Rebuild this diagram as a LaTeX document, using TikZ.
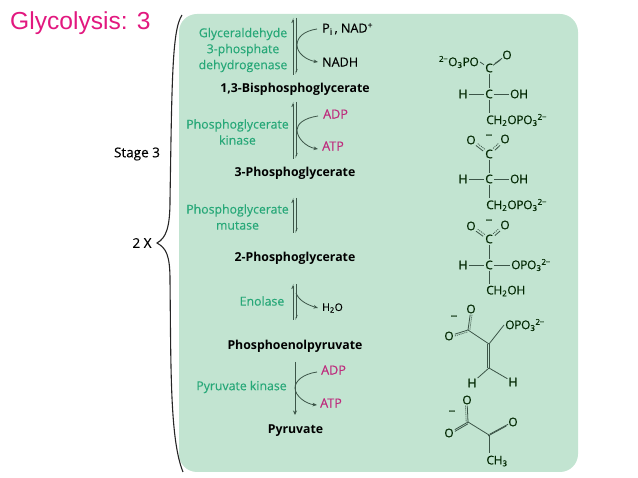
\documentclass[tikz,border=0pt]{standalone}
\usepackage{fontspec}
\setmainfont{Open Sans}
\newfontfamily\titlefont{Liberation Sans}
\newfontfamily\heavyfont[FakeBold=0.25]{Open Sans}
\newfontfamily\chemfont[FakeBold=0.25,LetterSpace=-3]{Open Sans}
\usepackage{tikz}
\usetikzlibrary{calc, positioning, arrows.meta}
\definecolor{panelgreen}{HTML}{C2E4D1}
\definecolor{enzgreen}{HTML}{27A878}
\definecolor{cofacpink}{HTML}{BE2A7C}
\definecolor{titlepink}{HTML}{E2187F}
\definecolor{bondgrey}{HTML}{3C5548}
\tikzset{
    x=1pt, y=-1pt,
    enzyme/.style = {inner sep=0pt, align=center, text=enzgreen, font=\heavyfont\fontsize{12.3}{16}\selectfont},
    metab/.style = {inner sep=0pt, font=\fontsize{12.3}{15}\selectfont\bfseries},
    cofac/.style = {inner sep=0pt, anchor=west, font=\heavyfont\fontsize{12.6}{15}\selectfont},
    adp/.style = {cofac, text=cofacpink},
    chem/.style = {inner sep=1pt, text=black!85!green, font=\chemfont\fontsize{12}{15}\selectfont},
    side/.style = {inner sep=0pt, font=\heavyfont\fontsize{13.5}{16}\selectfont},
    bond/.style = {draw=bondgrey, line width=0.8pt},
    dotbond/.style = {draw=bondgrey, line width=0.8pt, dash pattern=on 1pt off 1pt},
    off/.style = {transform canvas={shift={(#1)}}},
    rxn/.style = {draw=bondgrey, line width=0.8pt},
    upa/.style = {rxn, -{Straight Barb[left, length=3pt, width=2.5pt]}},
    cof/.style = {draw=bondgrey, line width=0.8pt, -{Stealth[length=4.5pt, width=3.5pt]}}
}
\begin{document}
\begin{tikzpicture}
        \useasboundingbox (0,0) rectangle (638,478);

        %panel and brace

        \fill[panelgreen, rounded corners=18pt] (179,14) rectangle (578,472);
        \coordinate(BT) at (182,15);
        \coordinate(BM) at (157,243);
        \coordinate(BB) at (183,472);
        \draw[line width=1.1pt, black!85] (BT) .. controls (172,30) and (172,80) .. (170,200)
            .. controls (170,228) and (166,238) .. (BM)
            .. controls (166,248) and (170,255) .. (170,280)
            .. controls (171,370) and (170,440) .. (BB);

        %title and side labels

        \node(title)[anchor=west, inner sep=0pt, text=titlepink, font=\titlefont\fontsize{24.6}{28}\selectfont] at (10,23) {Glycolysis: 3};
        \node(stage)[side] at (137,154) {Stage 3};
        \node(times)[side] at (142,243) {2 X};

        %enzymes

        \node(E1)[enzyme] at (243,50) {Glyceraldehyde\\3-phosphate\\dehydrogenase};
        \node(E2)[enzyme] at (237.5,132) {Phosphoglycerate\\kinase};
        \node(E3)[enzyme] at (237.5,217) {Phosphoglycerate\\mutase};
        \node(E4)[enzyme] at (262,301) {Enolase};
        \node(E5)[enzyme] at (241.5,387) {Pyruvate kinase};

        %metabolites

        \node(M1)[metab] at (295,89) {1,3-Bisphosphoglycerate};
        \node(M2)[metab] at (295,173) {3-Phosphoglycerate};
        \node(M3)[metab] at (295,258) {2-Phosphoglycerate};
        \node(M4)[metab] at (295,346) {Phosphoenolpyruvate};
        \node(M5)[metab] at (295.5,431) {Pyruvate};

        %cofactors

        \node(P1)[cofac] at (322,29) {P\textsubscript{i}\,, NAD\textsuperscript{+}};
        \node(N1)[cofac] at (322,62) {NADH};
        \node(A1)[adp] at (323,114) {ADP};
        \node(T1)[adp] at (322,146) {ATP};
        \node(W1)[cofac, font=\heavyfont\fontsize{10.5}{12}\selectfont] at (322,308) {H\textsubscript{2}O};
        \node(A2)[adp] at (321,370) {ADP};
        \node(T2)[adp] at (320,403) {ATP};

        %reaction arrows

        \coordinate(R1a) at (293,75);  \coordinate(R1b) at (293,18);
        \coordinate(R1c) at (296,18);  \coordinate(R1d) at (296,74);
        \coordinate(R2a) at (293,159); \coordinate(R2b) at (293,102);
        \coordinate(R2c) at (296,102); \coordinate(R2d) at (296,158);
        \coordinate(R3a) at (293,233); \coordinate(R3b) at (293,198);
        \coordinate(R3c) at (296,198); \coordinate(R3d) at (296,233);
        \coordinate(R4a) at (293,320); \coordinate(R4b) at (293,284);
        \coordinate(R4c) at (296,284); \coordinate(R4d) at (296,320);
        \coordinate(R4s) at (296,293);
        \coordinate(R5a) at (295,362); \coordinate(R5b) at (295,415);
        \draw[upa] (R1a) -- (R1b);
        \draw[upa] (R1c) -- (R1d);
        \draw[upa] (R2a) -- (R2b);
        \draw[upa] (R2c) -- (R2d);
        \draw[upa] (R3a) -- (R3b);
        \draw[upa] (R3c) -- (R3d);
        \draw[upa] (R4a) -- (R4b);
        \draw[upa] (R4c) -- (R4d);
        \draw[rxn, -{Stealth[length=4.5pt, width=4pt]}] (R5a) -- (R5b);

        %cofactor curves

        \draw[cof] (P1.west) ++(-5,0) coordinate(P1s) .. controls (303,31) and (297,38) .. (297,45) .. controls (297,53) and (306,60) .. ($(N1.west)+(-4,0)$);
        \draw[cof] (A1.west) ++(-5,2) coordinate(A1s) .. controls (304,118) and (297,124) .. (297,130) .. controls (297,138) and (306,147) .. ($(T1.west)+(-4,3)$);
        \draw[cof] (R4s) .. controls (299,301) and (308,305) .. ($(W1.west)+(-4,0)$);
        \draw[cof] (A2.west) ++(-4,2) coordinate(A2s) .. controls (303,374) and (295,381) .. (295,388) .. controls (295,396) and (306,404) .. ($(T2.west)+(-3,2)$);

        %1,3-bisphosphoglycerate

        \node(a1)[chem, anchor=east] at (480,62) {\textsuperscript{2\hspace{-0.5pt}−}O\textsubscript{3}PO};
        \node(a2)[chem] at (489,68) {C};
        \node(a3)[chem] at (507,55) {O};
        \node(a4)[chem] at (463,94) {H};
        \node(a5)[chem] at (489,94) {C};
        \node(a6)[chem] at (519,94) {OH};
        \node(a7)[chem, anchor=west] at (485,120) {CH\textsubscript{2}OPO\textsubscript{3}\textsuperscript{2−}};
        \coordinate(a8) at (489,113);
        \draw[bond] (a1.east) -- (a2);
        \draw[bond, off={-0.9pt,-0.9pt}] (a2) -- (a3);
        \draw[bond, off={0.9pt,0.9pt}] (a2) -- (a3);
        \draw[bond] (a2) -- (a5);
        \draw[bond] (a4) -- (a5);
        \draw[bond] (a5) -- (a6);
        \draw[bond] (a5) -- (a8);

        %3-phosphoglycerate

        \node(b1)[chem] at (471,140) {O};
        \node(b2)[chem] at (489,137) {−};
        \node(b3)[chem] at (505,139) {O};
        \node(b4)[chem] at (489,154) {C};
        \node(b5)[chem] at (463,179) {H};
        \node(b6)[chem] at (489,179) {C};
        \node(b7)[chem] at (519,179) {OH};
        \node(b8)[chem, anchor=west] at (485,205) {CH\textsubscript{2}OPO\textsubscript{3}\textsuperscript{2−}};
        \coordinate(b9) at (489,198);
        \draw[bond, off={-0.9pt,-0.9pt}] (b1) -- (b4);
        \draw[dotbond, off={0.9pt,0.9pt}] (b1) -- (b4);
        \draw[bond, off={0.9pt,-0.9pt}] (b3) -- (b4);
        \draw[dotbond, off={-0.9pt,0.9pt}] (b3) -- (b4);
        \draw[bond] (b4) -- (b6);
        \draw[bond] (b5) -- (b6);
        \draw[bond] (b6) -- (b7);
        \draw[bond] (b6) -- (b9);

        %2-phosphoglycerate

        \node(c1)[chem] at (471,226) {O};
        \node(c2)[chem] at (489,222) {−};
        \node(c3)[chem] at (505,225) {O};
        \node(c4)[chem] at (489,239) {C};
        \node(c5)[chem] at (463,265) {H};
        \node(c6)[chem] at (489,265) {C};
        \node(c7)[chem, anchor=west] at (510,265) {OPO\textsubscript{3}\textsuperscript{2−}};
        \node(c8)[chem, anchor=west] at (485,291) {CH\textsubscript{2}OH};
        \coordinate(c9) at (489,284);
        \draw[bond, off={-0.9pt,-0.9pt}] (c1) -- (c4);
        \draw[dotbond, off={0.9pt,0.9pt}] (c1) -- (c4);
        \draw[bond, off={0.9pt,-0.9pt}] (c3) -- (c4);
        \draw[dotbond, off={-0.9pt,0.9pt}] (c3) -- (c4);
        \draw[bond] (c4) -- (c6);
        \draw[bond] (c5) -- (c6);
        \draw[bond] (c6) -- (c7.west);
        \draw[bond] (c6) -- (c9);

        %phosphoenolpyruvate

        \node(d1)[chem] at (471,309) {O};
        \node(d2)[chem] at (454,318) {−};
        \node(d3)[chem] at (449,336) {O};
        \coordinate(d4) at (468,330);
        \coordinate(d5) at (489,344);
        \coordinate(d6) at (489,368);
        \node(d7)[chem, anchor=west] at (504,325) {OPO\textsubscript{3}\textsuperscript{2−}};
        \node(d8)[chem] at (472,383) {H};
        \node(d9)[chem] at (513,382) {H};
        \draw[bond] (d1) -- (d4);
        \draw[dotbond, off={1.8pt,0pt}] (d1) -- (d4);
        \draw[bond] (d3) -- (d4);
        \draw[dotbond, off={0pt,-1.8pt}] (d3) -- (d4);
        \draw[bond] (d4) -- (d5);
        \draw[bond] (d5) -- (d7.west);
        \draw[bond] (d5) -- (d6);
        \draw[bond, off={-2pt,0pt}] (d5) -- (d6);
        \draw[bond] (d6) -- (d8);
        \draw[bond] (d6) -- (d9);

        %pyruvate

        \node(e1)[chem] at (467,400) {O};
        \node(e2)[chem] at (452,413) {−};
        \node(e3)[chem] at (449,433) {O};
        \coordinate(e4) at (468,422);
        \coordinate(e5) at (489,435);
        \node(e6)[chem] at (513,422) {O};
        \node(e7)[chem] at (497,461) {CH\textsubscript{3}};
        \coordinate(e8) at (489,453);
        \draw[bond] (e1) -- (e4);
        \draw[dotbond, off={-1.8pt,0pt}] (e1) -- (e4);
        \draw[bond] (e3) -- (e4);
        \draw[bond, off={0pt,-1.8pt}] (e3) -- (e4);
        \draw[bond] (e4) -- (e5);
        \draw[bond, off={-0.9pt,-0.9pt}] (e5) -- (e6);
        \draw[bond, off={0.9pt,0.9pt}] (e5) -- (e6);
        \draw[bond] (e5) -- (e8);
    \end{tikzpicture}
\end{document}
